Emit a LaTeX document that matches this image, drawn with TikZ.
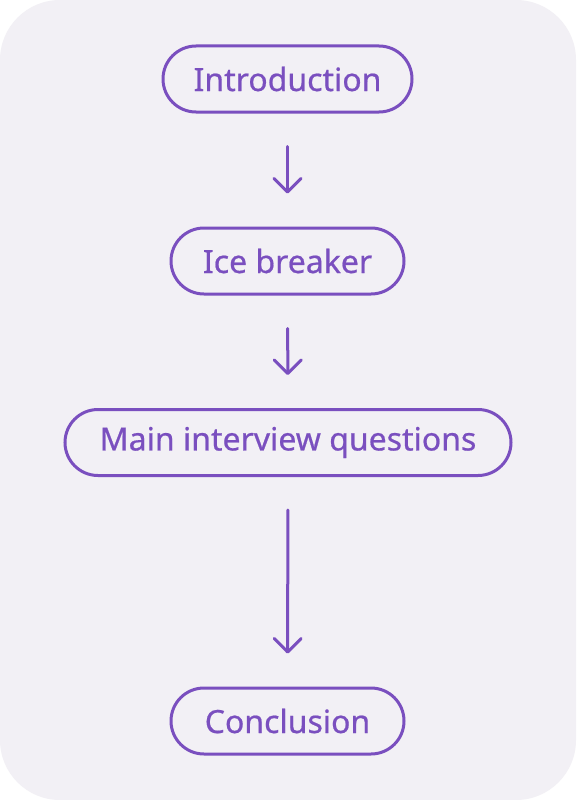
\documentclass[tikz,border=0pt]{standalone}
\usepackage{fontspec}
\setmainfont[FakeBold=0.6]{Noto Sans}
\usetikzlibrary{arrows.meta}
\definecolor{bgpanel}{HTML}{F2F0F5}
\definecolor{purp}{HTML}{7A4FBF}
\begin{document}
\begin{tikzpicture}[x=1pt,y=-1pt,
  stage/.style={draw=purp, line width=3pt, rounded corners=33pt, text=purp,
    minimum height=66pt, inner sep=0pt, font=\fontsize{32}{36}\selectfont},
  flow/.style={draw=purp, line width=3pt, line cap=round,
    -{Straight Barb[length=13.5pt,width=27pt,round]}, shorten <=33pt, shorten >=33pt}]
\useasboundingbox (0,0) rectangle (576,800);
\fill[white] (0,0) rectangle (576,800);
\fill[bgpanel, rounded corners=60pt] (0,0) rectangle (576,800);
\node[stage, minimum width=249pt] (a) at (287.5,79) {Introduction};
\node[stage, minimum width=233pt] (b) at (287.5,261) {Ice breaker};
\node[stage, minimum width=446pt] (c) at (288,442.5) {Main interview questions};
\node[stage, minimum width=233pt] (d) at (287.5,721) {Conclusion};
\draw[flow] (a) -- (b);
\draw[flow] (b) -- (c);
\draw[flow] (c) -- (d);
\end{tikzpicture}
\end{document}
